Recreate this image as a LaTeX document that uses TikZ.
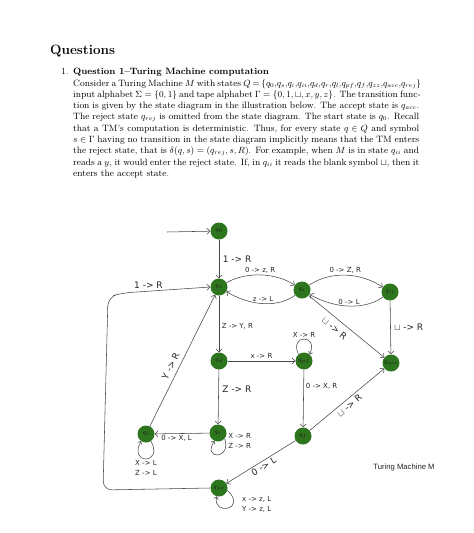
\documentclass[tikz,border=0pt]{standalone}
\usepackage{fontspec}
\newfontfamily\hw{DejaVu Sans}
\newfontfamily\helv{Liberation Sans}
\usetikzlibrary{arrows.meta}
\definecolor{nodegreen}{RGB}{46,118,30}
\definecolor{edgegray}{RGB}{72,72,72}
\newcommand{\tline}[1]{\hbox to 346pt{#1}}
\tikzset{
  st/.style={circle, fill=nodegreen, minimum size=17pt, inner sep=0pt, font=\fontsize{6}{6}\selectfont, text=black!90},
  edge/.style={draw=edgegray, line width=0.55pt, -{Straight Barb[length=3pt,width=6pt]}},
  loopedge/.style={draw=edgegray, line width=0.55pt, -{Straight Barb[length=2.2pt,width=4.5pt]}},
  lab/.style={font=\hw\fontsize{7}{10}\selectfont, text=black!85, inner sep=0.5pt},
  labbig/.style={font=\hw\fontsize{9}{10}\selectfont, text=black!85, inner sep=0.5pt},
}
\begin{document}
\begin{tikzpicture}[x=1pt,y=-1pt]
\fill[white] (0,0) rectangle (474,533);
\useasboundingbox (0,0) rectangle (474,533);

% ---- text ----
\node[anchor=base west, inner sep=0pt, font=\fontsize{13.5}{16}\selectfont\bfseries] (title) at (50,54) {Questions};
\node[anchor=base west, inner sep=0pt, font=\fontsize{9.2}{11.3}\selectfont] (num) at (61,74) {1.};
\node[anchor=base west, inner sep=0pt, font=\fontsize{9.2}{11.3}\selectfont\bfseries] (qhead) at (73,74) {Question 1--Turing Machine computation};
\node[anchor=base west, inner sep=0pt] (body) at (73,86) {\parbox[t]{346pt}{\fontsize{9.2}{11.3}\selectfont
\tline{Consider a Turing Machine $M$ with states $\thinmuskip=0mu\thickmuskip=3.5mu Q=\{q_0,q_s,q_i,q_{ii},q_d,q_r,q_l,q_{pf},q_f,q_{zz},q_{acc},q_{rej}\}$}
\tline{input alphabet $\Sigma=\{0,1\}$ and tape alphabet $\Gamma=\{0,1,\sqcup,x,y,z\}$. The transition func-}
\tline{tion is given by the state diagram in the illustration below. The accept state is $q_{acc}$.}
\tline{The reject state $q_{rej}$ is omitted from the state diagram. The start state is $q_0$. Recall}
\tline{that a TM's computation is deterministic. Thus, for every state $q\in Q$ and symbol}
\tline{$s\in\Gamma$ having no transition in the state diagram implicitly means that the TM enters}
\tline{the reject state, that is $\delta(q,s)=(q_{rej},s,R)$. For example, when $M$ is in state $q_{ii}$ and}
\tline{reads a $y$, it would enter the reject state. If, in $q_{ii}$ it reads the blank symbol $\sqcup$, then it}
\hbox{enters the accept state.}}};

% ---- states ----
\node[st] (q0)   at (219,231) {$q_0$};
\node[st] (qs)   at (219,287) {$q_s$};
\node[st] (qi)   at (302,290) {$q_i$};
\node[st] (qii)  at (390,292) {$q_{ii}$};
\node[st] (qd)   at (219,361) {$q_d$};
\node[st] (qpf)  at (304,361) {$q_{pf}$};
\node[st] (qacc) at (391,363) {$q_{acc}$};
\node[st] (ql)   at (146,434) {$q_l$};
\node[st] (qr)   at (218,433) {$q_r$};
\node[st] (qf)   at (303,436) {$q_f$};
\node[st] (qzz)  at (219,488) {$q_{zz}$};

\coordinate (start) at (167,232);
\draw[edge] (start) -- (q0);

\draw[edge] (q0) -- node[labbig, right=3pt, pos=0.5] {1 -> R} (qs);

\draw[edge] (qs) .. controls (245,272) and (275,272) .. node[lab, above=1pt] {0 -> z, R} (qi);
\draw[edge] (qi) .. controls (278,308) and (250,306) .. node[lab, above=1pt] {z -> L} (qs);
\draw[edge] (qi) .. controls (330,271) and (360,272) .. node[lab, above=1pt] {0 -> Z, R} (qii);
\draw[edge] (qii) .. controls (365,310) and (335,309) .. node[lab, above=0.5pt] {0 -> L} (qi);

\draw[edge] (qi) -- node[labbig, sloped, below=5pt, pos=0.42] {$\sqcup$ -> R} (qacc);
\draw[edge] (qii) -- node[labbig, right=3pt, pos=0.5] {$\sqcup$ -> R} (qacc);
\draw[edge] (qs) -- node[lab, right=2pt, pos=0.55] {Z -> Y, R} (qd);
\draw[edge] (qd) -- node[lab, above=1.5pt] {x -> R} (qpf);
\draw[loopedge] (qpf.130) .. controls (289,334) and (319,334) .. node[lab, above=1pt] {X -> R} (qpf.50);
\draw[edge] (qpf) -- node[lab, right=1.5pt, pos=0.28] {0 -> X, R} (qf);
\draw[edge] (qf) -- node[labbig, sloped, below=2pt, pos=0.48] {$\sqcup$ -> R} (qacc);
\draw[edge] (qd) -- node[labbig, right=3pt, pos=0.35] {Z -> R} (qr);

\draw[loopedge] (qr.-40) .. controls (232,460) and (202,460) .. node[lab, pos=0, anchor=west, align=left, xshift=3pt, yshift=-2.5pt] {X -> R\\Z -> R} (qr.-115);
\draw[edge] (qr) -- node[lab, below=0.5pt, pos=0.6] {0 -> X, L} (ql);
\draw[loopedge] (ql.-55) .. controls (164,465) and (128,465) .. node[lab, below=0.5pt, align=center] {X -> L\\Z -> L} (ql.-125);
\draw[edge] (ql) -- node[labbig, sloped, above=4pt, pos=0.43] {Y -> R} (qs);
\draw[edge] (qf) -- node[labbig, sloped, below=1pt, pos=0.5] {0 -> L} (qzz);
\draw[loopedge] (qzz.-15) .. controls (248,510) and (212,516) .. node[lab, pos=0, anchor=west, align=left, xshift=14pt, yshift=-14pt] {x -> z, L\\Y -> z, L} (qzz.-105);

\draw[edge, rounded corners=9pt] (qzz.west) -- (103,490) -- (108,297) -- (122,293) -- node[labbig, above=2pt, pos=0.3] {1 -> R} (qs.west);

\node[font=\helv\fontsize{7.7}{9}\selectfont, text=black!85] (cap) at (404,468) {Turing Machine M};
\end{tikzpicture}
\end{document}
